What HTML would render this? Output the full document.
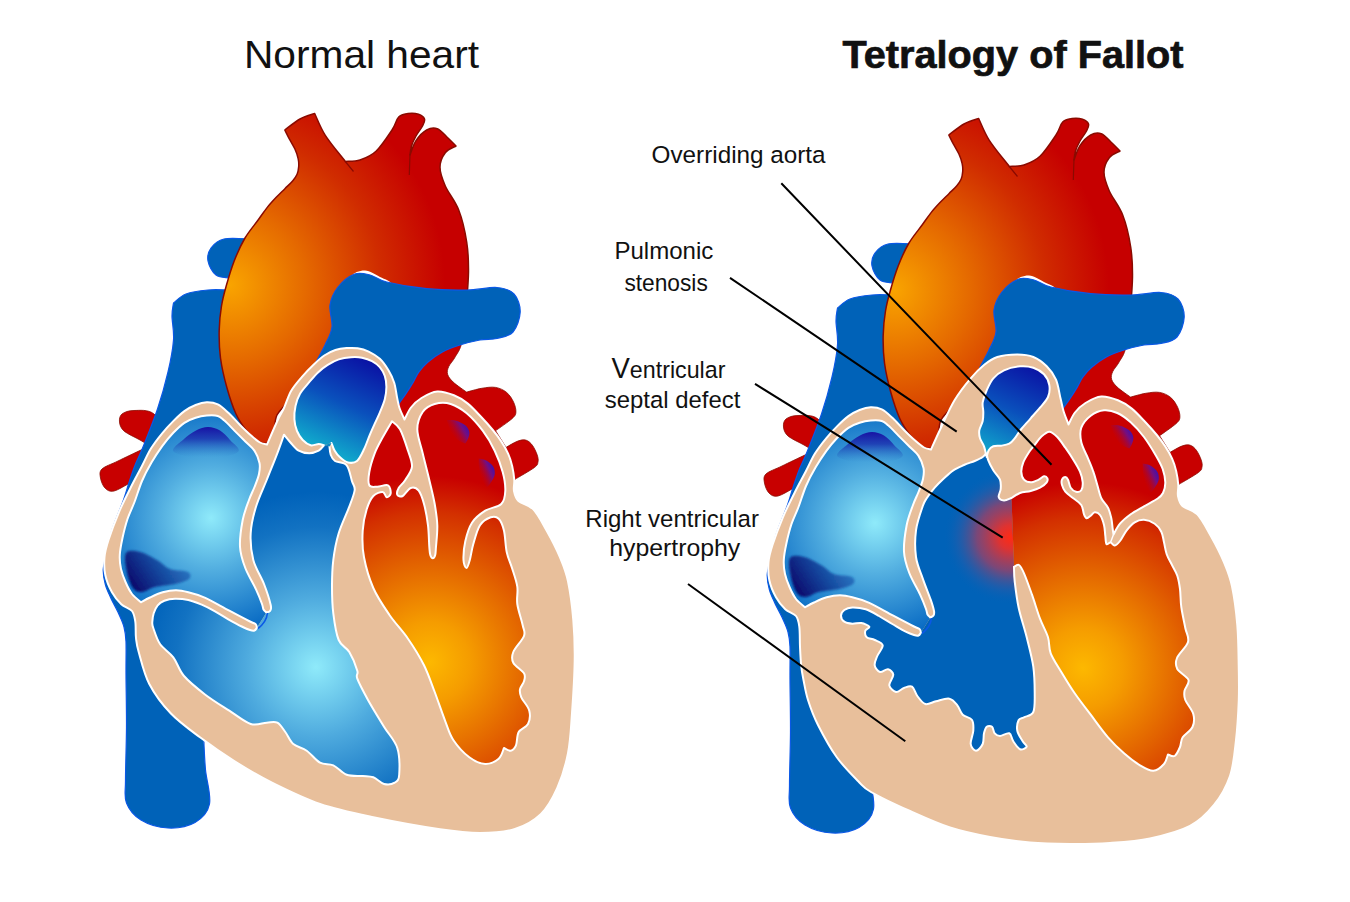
<!DOCTYPE html>
<html><head><meta charset="utf-8"><title>Tetralogy of Fallot</title>
<style>
html,body{margin:0;padding:0;background:#fff;}
svg{display:block;}
text{font-family:"Liberation Sans",sans-serif;fill:#111;}
</style></head><body>
<svg width="1350" height="902" viewBox="0 0 1350 902">
<defs>
<radialGradient id="gAo" gradientUnits="userSpaceOnUse" cx="230" cy="285" r="215">
 <stop offset="0" stop-color="#f9a400"/><stop offset="0.35" stop-color="#e56a00"/><stop offset="0.7" stop-color="#d02c00"/><stop offset="1" stop-color="#c60000"/>
</radialGradient>
<radialGradient id="gRA" gradientUnits="userSpaceOnUse" cx="211" cy="518" r="115">
 <stop offset="0" stop-color="#8feafa"/><stop offset="0.45" stop-color="#52aee0"/><stop offset="1" stop-color="#0a6cc4"/>
</radialGradient>
<radialGradient id="gRV" gradientUnits="userSpaceOnUse" cx="316" cy="667" r="175">
 <stop offset="0" stop-color="#8feafa"/><stop offset="0.4" stop-color="#4eaade"/><stop offset="0.8" stop-color="#1272c2"/><stop offset="1" stop-color="#0062ba"/>
</radialGradient>
<linearGradient id="gPV" gradientUnits="userSpaceOnUse" x1="372" y1="362" x2="330" y2="452">
 <stop offset="0" stop-color="#0a12a4"/><stop offset="0.5" stop-color="#0a50bc"/><stop offset="1" stop-color="#10a8cc"/>
</linearGradient>
<radialGradient id="gLV" gradientUnits="userSpaceOnUse" cx="430" cy="662" r="200">
 <stop offset="0" stop-color="#fdb800"/><stop offset="0.2" stop-color="#f59c00"/><stop offset="0.5" stop-color="#e26200"/><stop offset="0.75" stop-color="#d33000"/><stop offset="0.93" stop-color="#c80000"/>
</radialGradient>
<radialGradient id="gLV2" gradientUnits="userSpaceOnUse" cx="419" cy="663" r="200">
 <stop offset="0" stop-color="#fdb800"/><stop offset="0.2" stop-color="#f59c00"/><stop offset="0.5" stop-color="#e26200"/><stop offset="0.75" stop-color="#d33000"/><stop offset="0.93" stop-color="#c80000"/>
</radialGradient>
<linearGradient id="gRAtop" gradientUnits="userSpaceOnUse" x1="208" y1="427" x2="208" y2="457">
 <stop offset="0" stop-color="#1812a4"/><stop offset="0.4" stop-color="#1c34b0" stop-opacity="0.85"/><stop offset="1" stop-color="#2c7cc8" stop-opacity="0"/>
</linearGradient>
<filter id="fBlur" x="-20%" y="-20%" width="140%" height="140%"><feGaussianBlur stdDeviation="1.1"/></filter>
<linearGradient id="gRAsh" gradientUnits="userSpaceOnUse" x1="135" y1="590" x2="180" y2="560">
 <stop offset="0" stop-color="#060a6c"/><stop offset="1" stop-color="#1a60b4" stop-opacity="0.75"/>
</linearGradient>
<linearGradient id="gPurp1" gradientUnits="userSpaceOnUse" x1="469" y1="428" x2="452" y2="438">
 <stop offset="0" stop-color="#4210a8"/><stop offset="0.3" stop-color="#6a1090" stop-opacity="0.9"/><stop offset="1" stop-color="#c80000" stop-opacity="0"/>
</linearGradient>
<linearGradient id="gPurp2" gradientUnits="userSpaceOnUse" x1="495" y1="470" x2="479" y2="477">
 <stop offset="0" stop-color="#4210a8"/><stop offset="0.3" stop-color="#6a1090" stop-opacity="0.9"/><stop offset="1" stop-color="#c80000" stop-opacity="0"/>
</linearGradient>

<radialGradient id="gVSD" gradientUnits="userSpaceOnUse" cx="347" cy="532" r="68">
 <stop offset="0" stop-color="#ff2a14"/><stop offset="0.18" stop-color="#ea302a" stop-opacity="0.95"/><stop offset="0.5" stop-color="#b03c5c" stop-opacity="0.7"/><stop offset="0.8" stop-color="#4058a0" stop-opacity="0.3"/><stop offset="1" stop-color="#0062b8" stop-opacity="0"/>
</radialGradient>
</defs>
<rect width="1350" height="902" fill="#fff"/>
<g>
<path d="M154.0 414.0C148.0 409.1 139.3 410.5 134.0 410.5C128.7 410.5 124.4 412.1 122.0 414.0C119.6 415.9 119.2 419.2 119.5 422.0C119.8 424.8 120.6 428.0 124.0 431.0C127.4 434.0 135.7 437.5 140.0 440.0C144.3 442.5 148.3 445.0 150.0 446.0C148.5 446.7 146.3 447.5 141.0 450.0C135.7 452.5 124.5 457.8 118.0 461.0C111.5 464.2 104.9 466.2 102.0 469.0C99.1 471.8 100.0 474.8 100.5 478.0C101.0 481.2 102.8 485.8 105.0 488.0C107.2 490.2 109.5 492.0 114.0 491.0C118.5 490.0 126.0 484.8 132.0 482.0C138.0 479.2 147.0 475.3 150.0 474.0C153.3 468.3 166.7 445.7 170.0 440.0C167.3 435.7 160.0 418.9 154.0 414.0Z" fill="#c80000" stroke="#8a0a00" stroke-width="0.8" stroke-linejoin="round"/>
<path d="M440.0 300.0C445.0 300.0 465.0 300.0 470.0 300.0C468.7 307.0 464.4 332.6 462.0 342.0C459.6 351.4 457.6 352.5 455.4 356.6C453.2 360.7 450.0 363.7 448.7 366.6C447.4 369.6 446.9 371.7 447.6 374.3C448.4 376.9 450.1 379.1 453.2 382.1C456.3 385.1 464.3 390.4 466.5 392.1C469.0 391.5 476.8 389.1 481.7 388.3C486.6 387.5 491.4 386.7 495.6 387.4C499.8 388.1 503.7 390.0 506.7 392.5C509.7 395.0 512.1 398.9 513.6 402.2C515.1 405.4 516.1 409.3 515.9 412.0C515.7 414.7 515.6 415.4 512.2 418.5C508.8 421.6 498.4 428.7 495.6 430.7C497.3 433.5 504.3 444.6 506.0 447.4C508.0 446.3 514.4 442.3 517.8 441.1C521.1 439.9 523.7 439.5 526.1 440.2C528.5 440.9 530.5 442.8 532.4 445.3C534.2 447.8 536.3 452.2 537.2 455.0C538.1 457.8 538.5 459.8 538.0 461.9C537.5 464.0 538.2 464.6 534.4 467.5C530.6 470.4 518.2 477.3 515.0 479.3C512.5 482.8 502.5 496.6 500.0 500.0C486.7 495.0 433.3 475.0 420.0 470.0C414.7 463.0 393.3 435.0 388.0 428.0C389.7 420.0 396.3 388.0 398.0 380.0C405.0 366.7 433.0 313.3 440.0 300.0Z" fill="#c80000" stroke="#8a0a00" stroke-width="0.8" stroke-linejoin="round"/>
<path d="M173.5 303.0C175.6 301.5 180.2 296.2 186.0 294.0C191.8 291.8 201.0 290.7 208.0 290.0C215.0 289.3 224.7 290.0 228.0 290.0C233.7 308.3 256.3 381.7 262.0 400.0C263.7 408.3 270.3 441.7 272.0 450.0C260.0 475.0 212.0 575.0 200.0 600.0C200.7 624.2 203.3 720.8 204.0 745.0C204.2 749.2 204.6 760.2 205.5 770.0C206.4 779.8 211.2 795.2 209.5 804.0C207.8 812.8 201.9 818.5 195.0 822.5C188.1 826.5 177.0 828.4 168.0 828.0C159.0 827.6 147.9 824.2 141.0 820.0C134.1 815.8 129.1 809.7 126.5 803.0C123.9 796.3 125.5 792.7 125.5 780.0C125.5 767.3 126.4 744.5 126.5 727.0C126.6 709.5 126.1 689.2 126.0 675.0C125.9 660.8 126.3 649.7 126.0 641.7C125.7 633.7 125.2 631.7 124.0 627.0C122.8 622.3 120.9 618.6 118.7 613.7C116.5 608.8 112.9 602.6 110.7 597.7C108.5 592.8 106.5 589.0 105.3 584.3C104.0 579.6 103.1 574.6 103.2 569.7C103.3 564.8 104.5 561.6 106.0 555.0C107.5 548.4 109.1 539.2 112.0 530.0C114.9 520.8 120.6 508.2 123.5 500.0C126.4 491.8 127.5 487.0 129.5 481.0C131.5 475.0 133.2 469.7 135.5 464.0C137.8 458.3 139.3 456.2 143.0 447.0C146.7 437.8 153.3 421.5 157.5 409.0C161.7 396.5 165.3 383.5 168.0 372.0C170.7 360.5 172.8 349.3 173.5 340.0C174.2 330.7 172.0 322.2 172.0 316.0C172.0 309.8 173.2 305.2 173.5 303.0Z" fill="#0062b8" stroke="#0a58e6" stroke-width="1.2" stroke-linejoin="round"/>
<path d="M250.0 239.0C245.7 239.0 230.5 237.5 224.0 239.0C217.5 240.5 213.7 244.3 211.0 248.0C208.3 251.7 207.2 256.5 208.0 261.0C208.8 265.5 212.3 272.2 216.0 275.0C219.7 277.8 224.3 277.3 230.0 278.0C235.7 278.7 246.7 278.8 250.0 279.0C250.0 272.3 250.0 245.7 250.0 239.0Z" fill="#0062b8" stroke="#0a58e6" stroke-width="1.2" stroke-linejoin="round"/>
<path d="M284.8 130.0C287.3 128.2 295.0 121.8 300.0 119.0C305.0 116.2 312.2 114.4 314.7 113.5C316.5 117.1 320.2 127.3 325.3 135.3C330.4 143.3 342.0 157.1 345.3 161.5C347.8 161.2 354.9 161.7 360.0 160.0C365.1 158.3 370.7 156.3 376.0 151.3C381.3 146.3 388.2 135.7 392.0 130.0C395.8 124.3 396.0 119.8 398.7 117.0C401.4 114.2 404.7 114.0 408.0 113.5C411.3 113.0 415.8 113.3 418.5 114.2C421.2 115.1 423.8 117.0 424.5 119.0C425.2 121.0 423.9 123.2 422.5 126.0C421.1 128.8 417.8 132.7 416.0 136.0C414.2 139.3 412.5 142.8 411.5 146.0C410.5 149.2 410.2 153.5 410.0 155.0C411.0 152.6 413.2 144.9 416.0 140.7C418.8 136.5 423.1 132.0 426.7 130.0C430.2 128.0 433.8 127.4 437.3 128.7C440.9 130.0 444.9 135.1 448.0 138.0C451.1 140.9 454.7 144.7 456.0 146.0C454.2 147.1 448.0 149.1 445.3 152.7C442.6 156.2 440.0 161.8 440.0 167.3C440.0 172.9 442.2 178.9 445.3 186.0C448.4 193.1 455.1 200.7 458.7 210.0C462.3 219.3 465.1 231.7 466.7 242.0C468.3 252.3 468.6 260.7 468.5 272.0C468.4 283.3 466.4 303.7 466.0 310.0C463.3 313.3 452.7 326.7 450.0 330.0C441.7 338.3 408.3 371.7 400.0 380.0C388.3 386.7 341.7 413.3 330.0 420.0C323.3 416.7 296.7 403.3 290.0 400.0C287.8 402.5 279.6 410.0 277.0 415.0C274.4 420.0 275.5 426.0 274.5 430.0C273.5 434.0 272.6 436.8 271.0 439.0C269.4 441.2 267.5 443.3 265.0 443.5C262.5 443.7 259.2 442.2 256.0 440.0C252.8 437.8 249.3 434.3 246.0 430.0C242.7 425.7 239.2 421.0 236.0 414.0C232.8 407.0 229.6 397.3 227.0 388.0C224.4 378.7 221.8 367.7 220.5 358.0C219.2 348.3 219.0 338.7 219.2 330.0C219.4 321.3 220.3 313.3 221.5 306.0C222.7 298.7 224.1 293.4 226.2 286.0C228.3 278.6 230.9 269.5 234.0 261.5C237.1 253.5 240.9 244.9 245.0 238.0C249.1 231.1 254.6 224.9 258.3 219.8C262.0 214.7 264.2 211.3 267.1 207.6C270.1 203.9 273.0 200.8 276.0 197.6C279.0 194.4 282.1 191.5 284.9 188.7C287.7 185.9 290.6 183.4 292.6 181.0C294.6 178.6 296.1 176.7 297.1 174.3C298.1 171.9 298.5 169.2 298.7 166.6C298.9 164.0 298.8 161.8 298.2 158.8C297.6 155.8 296.3 152.1 294.8 148.8C293.3 145.5 291.0 141.9 289.3 138.8C287.6 135.7 285.6 131.5 284.8 130.0Z" fill="url(#gAo)" stroke="#8a0a00" stroke-width="1.5" stroke-linejoin="round"/>
<path d="M345.3 161.5L353.5 171.5M410 154L409.3 175" stroke="#8a0a00" stroke-width="1.2" fill="none"/>
<path d="M352.0 276.0C352.8 272.8 360.3 270.3 365.0 270.5C369.7 270.7 375.8 274.8 380.0 277.0C384.2 279.2 393.3 281.8 390.0 284.0C386.7 286.2 366.3 291.3 360.0 290.0C353.7 288.7 351.2 279.2 352.0 276.0Z" fill="#ffffff"/>
<path d="M354.7 274.0C360.0 272.0 364.7 273.7 370.0 275.0C375.3 276.3 377.2 279.7 386.7 282.0C396.1 284.3 413.4 287.4 426.7 288.7C440.0 290.0 455.0 290.2 466.7 290.0C478.4 289.8 489.1 286.8 497.0 287.5C504.9 288.2 510.1 289.9 514.0 294.0C517.9 298.1 520.4 305.7 520.2 312.0C520.0 318.3 516.9 327.6 513.0 332.0C509.1 336.4 502.5 337.2 497.0 338.5C491.5 339.8 486.2 338.9 480.0 340.0C473.8 341.1 466.3 343.0 460.0 345.0C453.7 347.0 447.4 349.3 442.0 352.2C436.6 355.1 431.6 358.9 427.7 362.2C423.8 365.5 421.2 368.8 418.8 372.1C416.4 375.4 415.5 378.4 413.3 382.1C411.1 385.8 408.1 390.5 405.5 394.3C402.9 398.1 399.2 403.2 398.0 405.0C396.7 407.5 391.3 417.5 390.0 420.0C376.7 420.0 323.3 420.0 310.0 420.0C311.0 410.3 315.0 371.7 316.0 362.0C317.5 359.2 322.3 350.8 325.0 345.0C327.7 339.2 331.2 333.7 332.0 327.0C332.8 320.3 329.0 311.7 330.0 305.0C331.0 298.3 333.9 292.2 338.0 287.0C342.1 281.8 349.4 276.0 354.7 274.0Z" fill="#0062b8" stroke="#0a58e6" stroke-width="1.2" stroke-linejoin="round"/>
</g>
<path d="M130.5 488.0C134.3 480.3 138.6 472.6 142.0 466.0C145.4 459.4 147.7 453.8 151.1 448.3C154.5 442.9 158.5 437.8 162.2 433.3C165.9 428.8 169.6 424.8 173.3 421.1C177.0 417.4 180.7 413.8 184.4 411.1C188.1 408.4 191.9 406.5 195.6 405.0C199.3 403.5 203.0 402.3 206.7 402.2C210.4 402.1 214.1 402.5 217.8 404.4C221.5 406.2 225.2 409.9 228.9 413.3C232.6 416.7 236.3 421.3 240.0 425.0C243.7 428.7 247.8 432.7 251.1 435.6C254.4 438.5 257.4 441.0 260.0 442.5C262.6 444.0 265.8 444.2 267.0 444.5C268.7 440.6 274.5 427.1 277.3 421.0C280.1 414.9 281.7 413.0 284.0 408.0C286.3 403.0 288.1 396.2 291.1 391.0C294.1 385.8 298.5 381.0 302.2 376.6C305.9 372.2 309.6 368.4 313.3 364.9C317.0 361.4 320.6 358.0 324.3 355.5C328.0 353.0 331.7 351.2 335.4 350.0C339.1 348.8 342.8 348.4 346.5 348.1C350.2 347.8 353.9 347.7 357.6 348.3C361.3 348.9 365.0 349.9 368.7 351.6C372.4 353.4 376.5 355.7 379.8 358.8C383.1 361.9 386.2 366.5 388.6 370.5C391.0 374.5 392.8 378.3 394.2 382.7C395.6 387.1 396.1 392.9 397.0 397.1C397.9 401.3 398.2 404.3 399.5 408.0C400.8 411.7 403.7 417.6 404.5 419.5C405.6 417.5 408.2 411.1 411.0 407.5C413.8 403.9 417.1 400.7 421.5 398.0C425.9 395.3 431.9 391.9 437.3 391.5C442.7 391.1 448.8 393.3 453.9 395.3C459.0 397.3 463.2 399.9 467.8 403.6C472.4 407.3 477.5 413.1 481.7 417.5C485.9 421.9 489.6 426.1 492.8 430.0C496.0 433.9 498.6 437.2 501.1 441.1C503.7 445.0 506.2 449.4 508.1 453.6C510.0 457.8 511.2 461.7 512.2 466.1C513.2 470.5 514.0 475.9 514.3 480.0C514.6 484.1 513.3 487.5 514.0 491.0C514.7 494.5 515.3 497.9 518.5 501.0C521.7 504.1 528.6 504.4 533.3 509.3C538.0 514.2 542.2 522.7 546.7 530.7C551.2 538.7 556.5 548.9 560.0 557.3C563.5 565.7 565.8 570.8 568.0 581.3C570.2 591.8 572.2 606.9 573.3 620.0C574.4 633.1 574.9 644.5 574.7 660.0C574.5 675.5 573.1 697.8 572.0 713.3C570.9 728.8 570.5 740.8 568.0 753.3C565.5 765.8 561.8 777.9 557.3 788.0C552.8 798.1 548.0 807.2 541.0 814.0C534.0 820.8 525.2 825.8 515.0 829.0C504.8 832.2 492.5 833.0 480.0 833.0C467.5 833.0 457.8 831.9 440.0 829.3C422.2 826.7 393.3 821.5 373.3 817.3C353.3 813.1 336.9 809.8 320.0 804.0C303.1 798.2 286.2 789.8 272.0 782.7C257.8 775.6 246.7 768.9 234.7 761.3C222.7 753.7 210.7 745.3 200.0 737.3C189.3 729.3 179.1 722.2 170.7 713.3C162.2 704.4 154.6 694.2 149.3 684.0C144.0 673.8 140.9 659.7 138.7 652.0C136.5 644.3 136.6 643.0 136.0 638.0C135.4 633.0 136.0 626.2 135.3 621.7C134.6 617.2 134.3 613.9 132.0 611.0C129.7 608.1 124.6 607.4 121.3 604.3C118.0 601.2 114.7 597.2 112.0 592.3C109.3 587.4 106.5 580.9 105.3 575.0C104.0 569.1 104.0 562.8 104.5 557.0C105.0 551.2 106.1 547.5 108.5 540.0C110.9 532.5 115.3 520.7 119.0 512.0C122.7 503.3 126.7 495.7 130.5 488.0Z" fill="#e8bf9b" stroke="#ffffff" stroke-width="2" stroke-linejoin="round"/>
<path d="M206.7 415.6C203.0 415.9 199.3 416.6 195.6 417.8C191.9 419.0 188.1 420.3 184.4 422.8C180.7 425.3 177.0 428.9 173.3 432.8C169.6 436.7 165.8 441.2 162.2 446.1C158.6 451.1 154.9 456.7 151.5 462.5C148.1 468.3 144.8 474.4 142.0 481.0C139.2 487.6 136.9 495.7 134.5 502.0C132.1 508.3 129.5 513.0 127.5 519.0C125.5 525.0 123.8 532.0 122.5 538.0C121.2 544.0 120.0 549.8 119.8 555.0C119.5 560.2 120.0 564.5 121.0 569.0C122.0 573.5 123.7 577.8 125.5 582.0C127.3 586.2 129.4 590.6 132.0 594.0C134.6 597.4 139.5 600.9 141.0 602.3C142.5 601.5 146.4 599.2 150.0 597.5C153.6 595.8 158.4 593.5 162.7 592.3C167.0 591.1 171.7 590.3 176.0 590.3C180.3 590.3 183.4 591.0 188.3 592.3C193.2 593.5 198.5 594.7 205.3 597.8C212.1 600.9 221.9 606.8 229.3 610.7C236.8 614.7 245.6 619.3 250.0 621.5C254.4 623.7 254.3 623.0 255.5 624.0C256.7 625.0 256.8 626.9 257.0 627.5L266.5 612.5C266.0 612.0 264.2 610.9 263.5 609.5C262.8 608.1 263.2 607.4 262.0 604.0C260.8 600.6 258.8 595.3 256.0 589.3C253.2 583.3 248.0 575.1 245.3 568.0C242.6 560.9 240.4 554.7 240.0 546.7C239.6 538.7 241.2 527.8 242.7 520.0C244.2 512.2 247.0 505.5 249.0 500.0C251.0 494.5 252.8 491.3 254.5 487.0C256.2 482.7 258.2 478.0 259.0 474.0C259.8 470.0 260.3 466.9 259.5 463.0C258.7 459.1 256.7 454.2 254.4 450.6C252.1 447.1 248.9 445.0 245.6 441.7C242.3 438.4 237.9 434.1 234.4 430.6C230.9 427.1 227.2 423.0 224.4 420.6C221.6 418.2 220.8 416.8 217.8 416.0C214.9 415.2 210.4 415.3 206.7 415.6Z" fill="url(#gRA)"/><path d="M206.7 415.6C203.0 415.9 199.3 416.6 195.6 417.8C191.9 419.0 188.1 420.3 184.4 422.8C180.7 425.3 177.0 428.9 173.3 432.8C169.6 436.7 165.8 441.2 162.2 446.1C158.6 451.1 154.9 456.7 151.5 462.5C148.1 468.3 144.8 474.4 142.0 481.0C139.2 487.6 136.9 495.7 134.5 502.0C132.1 508.3 129.5 513.0 127.5 519.0C125.5 525.0 123.8 532.0 122.5 538.0C121.2 544.0 120.0 549.8 119.8 555.0C119.5 560.2 120.0 564.5 121.0 569.0C122.0 573.5 123.7 577.8 125.5 582.0C127.3 586.2 129.4 590.6 132.0 594.0C134.6 597.4 139.5 600.9 141.0 602.3C142.5 601.5 146.4 599.2 150.0 597.5C153.6 595.8 158.4 593.5 162.7 592.3C167.0 591.1 171.7 590.3 176.0 590.3C180.3 590.3 183.4 591.0 188.3 592.3C193.2 593.5 198.5 594.7 205.3 597.8C212.1 600.9 221.9 606.8 229.3 610.7C236.8 614.7 245.6 619.3 250.0 621.5C254.4 623.7 254.3 623.0 255.5 624.0C256.7 625.0 256.8 626.9 257.0 627.5M266.5 612.5C266.0 612.0 264.2 610.9 263.5 609.5C262.8 608.1 263.2 607.4 262.0 604.0C260.8 600.6 258.8 595.3 256.0 589.3C253.2 583.3 248.0 575.1 245.3 568.0C242.6 560.9 240.4 554.7 240.0 546.7C239.6 538.7 241.2 527.8 242.7 520.0C244.2 512.2 247.0 505.5 249.0 500.0C251.0 494.5 252.8 491.3 254.5 487.0C256.2 482.7 258.2 478.0 259.0 474.0C259.8 470.0 260.3 466.9 259.5 463.0C258.7 459.1 256.7 454.2 254.4 450.6C252.1 447.1 248.9 445.0 245.6 441.7C242.3 438.4 237.9 434.1 234.4 430.6C230.9 427.1 227.2 423.0 224.4 420.6C221.6 418.2 220.8 416.8 217.8 416.0C214.9 415.2 210.4 415.3 206.7 415.6" fill="none" stroke="#ffffff" stroke-width="2" stroke-linejoin="round" stroke-linecap="round"/>
<path d="M174.0 452.0C170.0 448.7 180.3 442.6 184.0 439.0C187.7 435.4 192.0 432.5 196.0 430.5C200.0 428.5 204.0 427.0 208.0 427.0C212.0 427.0 216.3 428.3 220.0 430.5C223.7 432.7 227.0 436.4 230.0 440.0C233.0 443.6 241.7 448.8 238.0 452.0C234.3 455.2 218.7 459.0 208.0 459.0C197.3 459.0 178.0 455.3 174.0 452.0Z" fill="url(#gRAtop)"/>
<path d="M126.0 553.0C128.2 549.7 134.8 550.8 140.0 552.0C145.2 553.2 152.0 557.2 157.0 560.0C162.0 562.8 164.8 567.0 170.0 569.0C175.2 571.0 184.8 570.3 188.0 572.0C191.2 573.7 191.2 577.0 189.0 579.0C186.8 581.0 180.7 582.7 175.0 584.0C169.3 585.3 160.5 585.7 155.0 587.0C149.5 588.3 145.7 591.8 142.0 592.0C138.3 592.2 135.5 591.3 133.0 588.0C130.5 584.7 128.2 577.8 127.0 572.0C125.8 566.2 123.8 556.3 126.0 553.0Z" fill="url(#gRAsh)" filter="url(#fBlur)"/>
<path d="M284.0 434.7C285.1 436.0 288.2 440.0 290.7 442.7C293.1 445.4 295.6 448.9 298.7 450.7C301.8 452.5 306.0 453.3 309.3 453.3C312.6 453.3 316.2 452.0 318.7 450.7C321.1 449.4 323.1 446.2 324.0 445.3L329.5 446.5C329.7 447.9 329.8 452.3 330.7 454.7C331.6 457.1 332.3 459.2 335.0 461.0C337.7 462.8 343.9 461.9 346.7 465.3C349.5 468.7 350.7 477.2 352.0 481.3C353.3 485.4 355.1 485.8 354.7 490.0C354.2 494.2 352.0 499.5 349.3 506.7C346.6 513.9 341.4 524.4 338.7 533.3C336.0 542.2 334.4 551.1 333.3 560.0C332.2 568.9 332.0 577.8 332.0 586.7C332.0 595.6 332.2 604.4 333.3 613.3C334.4 622.2 336.0 633.5 338.7 640.0C341.4 646.5 346.2 646.9 349.3 652.0C352.4 657.1 356.0 666.2 357.3 670.7C358.6 675.2 355.5 673.8 357.3 678.7C359.1 683.6 363.6 692.0 368.0 700.0C372.4 708.0 379.1 718.7 384.0 726.7C388.9 734.7 394.8 740.0 397.3 748.0C399.8 756.0 399.6 768.9 399.2 774.7C398.8 780.5 397.2 781.2 394.7 782.7C392.2 784.2 387.6 784.9 384.0 784.0C380.4 783.1 376.9 778.6 373.3 777.3C369.8 776.0 367.1 776.4 362.7 776.0C358.3 775.6 351.6 776.5 346.7 774.7C341.8 772.9 337.8 767.3 333.3 765.3C328.9 763.3 324.4 765.1 320.0 762.7C315.6 760.3 311.1 753.8 306.7 750.7C302.2 747.6 296.9 747.1 293.3 744.0C289.7 740.9 288.0 735.5 285.3 732.0C282.6 728.5 280.4 724.2 277.3 722.7C274.2 721.2 271.1 722.5 266.7 722.7C262.3 722.9 256.9 726.0 250.7 724.0C244.5 722.0 236.9 715.6 229.3 710.7C221.7 705.8 212.9 700.5 205.3 694.7C197.8 688.9 189.3 682.2 184.0 676.0C178.7 669.8 177.3 662.6 173.3 657.3C169.3 652.0 163.3 648.9 160.0 644.0C156.7 639.1 154.6 631.7 153.3 628.0C152.0 624.3 152.2 624.5 152.3 622.0C152.4 619.5 152.8 616.1 153.7 613.3C154.6 610.5 155.9 607.4 157.7 605.3C159.5 603.2 161.4 601.8 164.3 600.7C167.2 599.6 171.0 598.8 175.0 598.7C179.0 598.6 183.9 599.0 188.3 600.0C192.8 601.0 197.2 602.8 201.7 604.7C206.1 606.6 210.6 608.9 215.0 611.3C219.4 613.7 223.9 616.8 228.3 619.3C232.8 621.8 238.1 624.7 241.7 626.5C245.3 628.3 247.9 629.3 250.0 630.0C252.1 630.7 253.3 630.9 254.5 630.5C255.7 630.1 256.6 628.0 257.0 627.5L266.5 612.5C267.1 612.2 269.3 612.2 270.0 611.0C270.7 609.8 271.7 609.5 270.7 605.0C269.7 600.5 266.9 591.5 264.0 584.0C261.1 576.5 255.5 568.5 253.3 560.0C251.1 551.5 250.2 542.2 250.7 533.3C251.1 524.4 253.3 515.6 256.0 506.7C258.7 497.8 263.1 488.9 266.7 480.0C270.2 471.1 274.4 460.9 277.3 453.3C280.2 445.8 282.9 437.8 284.0 434.7Z" fill="url(#gRV)"/><path d="M284.0 434.7C285.1 436.0 288.2 440.0 290.7 442.7C293.1 445.4 295.6 448.9 298.7 450.7C301.8 452.5 306.0 453.3 309.3 453.3C312.6 453.3 316.2 452.0 318.7 450.7C321.1 449.4 323.1 446.2 324.0 445.3M329.5 446.5C329.7 447.9 329.8 452.3 330.7 454.7C331.6 457.1 332.3 459.2 335.0 461.0C337.7 462.8 343.9 461.9 346.7 465.3C349.5 468.7 350.7 477.2 352.0 481.3C353.3 485.4 355.1 485.8 354.7 490.0C354.2 494.2 352.0 499.5 349.3 506.7C346.6 513.9 341.4 524.4 338.7 533.3C336.0 542.2 334.4 551.1 333.3 560.0C332.2 568.9 332.0 577.8 332.0 586.7C332.0 595.6 332.2 604.4 333.3 613.3C334.4 622.2 336.0 633.5 338.7 640.0C341.4 646.5 346.2 646.9 349.3 652.0C352.4 657.1 356.0 666.2 357.3 670.7C358.6 675.2 355.5 673.8 357.3 678.7C359.1 683.6 363.6 692.0 368.0 700.0C372.4 708.0 379.1 718.7 384.0 726.7C388.9 734.7 394.8 740.0 397.3 748.0C399.8 756.0 399.6 768.9 399.2 774.7C398.8 780.5 397.2 781.2 394.7 782.7C392.2 784.2 387.6 784.9 384.0 784.0C380.4 783.1 376.9 778.6 373.3 777.3C369.8 776.0 367.1 776.4 362.7 776.0C358.3 775.6 351.6 776.5 346.7 774.7C341.8 772.9 337.8 767.3 333.3 765.3C328.9 763.3 324.4 765.1 320.0 762.7C315.6 760.3 311.1 753.8 306.7 750.7C302.2 747.6 296.9 747.1 293.3 744.0C289.7 740.9 288.0 735.5 285.3 732.0C282.6 728.5 280.4 724.2 277.3 722.7C274.2 721.2 271.1 722.5 266.7 722.7C262.3 722.9 256.9 726.0 250.7 724.0C244.5 722.0 236.9 715.6 229.3 710.7C221.7 705.8 212.9 700.5 205.3 694.7C197.8 688.9 189.3 682.2 184.0 676.0C178.7 669.8 177.3 662.6 173.3 657.3C169.3 652.0 163.3 648.9 160.0 644.0C156.7 639.1 154.6 631.7 153.3 628.0C152.0 624.3 152.2 624.5 152.3 622.0C152.4 619.5 152.8 616.1 153.7 613.3C154.6 610.5 155.9 607.4 157.7 605.3C159.5 603.2 161.4 601.8 164.3 600.7C167.2 599.6 171.0 598.8 175.0 598.7C179.0 598.6 183.9 599.0 188.3 600.0C192.8 601.0 197.2 602.8 201.7 604.7C206.1 606.6 210.6 608.9 215.0 611.3C219.4 613.7 223.9 616.8 228.3 619.3C232.8 621.8 238.1 624.7 241.7 626.5C245.3 628.3 247.9 629.3 250.0 630.0C252.1 630.7 253.3 630.9 254.5 630.5C255.7 630.1 256.6 628.0 257.0 627.5M266.5 612.5C267.1 612.2 269.3 612.2 270.0 611.0C270.7 609.8 271.7 609.5 270.7 605.0C269.7 600.5 266.9 591.5 264.0 584.0C261.1 576.5 255.5 568.5 253.3 560.0C251.1 551.5 250.2 542.2 250.7 533.3C251.1 524.4 253.3 515.6 256.0 506.7C258.7 497.8 263.1 488.9 266.7 480.0C270.2 471.1 274.4 460.9 277.3 453.3C280.2 445.8 282.9 437.8 284.0 434.7" fill="none" stroke="#ffffff" stroke-width="2" stroke-linejoin="round" stroke-linecap="round"/>
<path d="M351.0 357.2C354.9 356.9 358.5 357.0 362.0 357.7C365.5 358.4 369.0 359.5 372.0 361.1C375.0 362.7 377.7 364.7 379.8 367.2C381.9 369.7 383.7 372.7 384.8 376.0C385.9 379.3 386.4 383.2 386.4 387.1C386.4 391.0 385.9 395.1 384.8 399.3C383.7 403.6 381.6 408.4 379.8 412.6C378.0 416.9 375.9 421.1 374.2 424.8C372.5 428.5 371.5 430.7 369.8 434.8C368.1 438.9 366.1 444.9 364.0 449.3C361.9 453.7 359.7 458.8 357.0 461.0C354.3 463.2 350.8 463.1 348.0 462.5C345.2 461.9 342.2 459.3 340.0 457.3C337.8 455.3 336.1 453.1 334.7 450.7C333.3 448.3 332.0 444.3 331.5 443.0L324.0 445.3C323.1 445.1 320.9 444.0 318.7 444.0C316.5 444.0 313.4 446.0 310.7 445.3C308.0 444.6 305.0 442.4 302.7 440.0C300.4 437.6 298.4 434.4 297.0 431.0C295.6 427.6 294.6 423.5 294.4 419.3C294.1 415.1 294.6 410.2 295.5 406.0C296.4 401.8 297.8 397.7 300.0 393.8C302.2 389.9 305.9 386.2 308.8 382.7C311.8 379.2 314.6 375.7 317.7 372.7C320.8 369.7 324.2 367.1 327.7 364.9C331.2 362.7 334.9 360.7 338.8 359.4C342.7 358.1 347.1 357.5 351.0 357.2Z" fill="url(#gPV)"/><path d="M351.0 357.2C354.9 356.9 358.5 357.0 362.0 357.7C365.5 358.4 369.0 359.5 372.0 361.1C375.0 362.7 377.7 364.7 379.8 367.2C381.9 369.7 383.7 372.7 384.8 376.0C385.9 379.3 386.4 383.2 386.4 387.1C386.4 391.0 385.9 395.1 384.8 399.3C383.7 403.6 381.6 408.4 379.8 412.6C378.0 416.9 375.9 421.1 374.2 424.8C372.5 428.5 371.5 430.7 369.8 434.8C368.1 438.9 366.1 444.9 364.0 449.3C361.9 453.7 359.7 458.8 357.0 461.0C354.3 463.2 350.8 463.1 348.0 462.5C345.2 461.9 342.2 459.3 340.0 457.3C337.8 455.3 336.1 453.1 334.7 450.7C333.3 448.3 332.0 444.3 331.5 443.0M324.0 445.3C323.1 445.1 320.9 444.0 318.7 444.0C316.5 444.0 313.4 446.0 310.7 445.3C308.0 444.6 305.0 442.4 302.7 440.0C300.4 437.6 298.4 434.4 297.0 431.0C295.6 427.6 294.6 423.5 294.4 419.3C294.1 415.1 294.6 410.2 295.5 406.0C296.4 401.8 297.8 397.7 300.0 393.8C302.2 389.9 305.9 386.2 308.8 382.7C311.8 379.2 314.6 375.7 317.7 372.7C320.8 369.7 324.2 367.1 327.7 364.9C331.2 362.7 334.9 360.7 338.8 359.4C342.7 358.1 347.1 357.5 351.0 357.2" fill="none" stroke="#ffffff" stroke-width="2" stroke-linejoin="round" stroke-linecap="round"/>
<path d="M324 445.3L331.5 443L329.5 446.5Z" fill="#0c86c4"/>
<path d="M267.5 613Q266.5 622 258 628.5" stroke="#0a58e6" stroke-width="1.6" fill="none"/>
<path d="M392.0 421.3C393.3 422.6 397.3 424.4 400.0 429.3C402.7 434.2 406.0 444.5 408.0 450.7C410.0 456.9 412.4 461.8 412.0 466.7C411.6 471.6 407.5 476.4 405.3 480.0C403.1 483.6 400.0 485.6 398.7 488.0C397.4 490.4 396.6 493.4 397.3 494.7C398.0 496.0 400.5 497.1 402.7 496.0C404.9 494.9 408.0 488.9 410.7 488.0C413.4 487.1 416.5 488.0 418.7 490.7C420.9 493.4 422.4 498.2 424.0 504.0C425.6 509.8 427.1 518.2 428.0 525.3C428.9 532.4 428.9 541.8 429.3 546.7C429.7 551.7 429.7 553.1 430.3 555.0C430.9 556.9 432.0 558.3 432.8 558.3C433.6 558.3 434.7 556.9 435.2 555.0C435.7 553.1 435.6 551.7 436.0 546.7C436.4 541.8 437.5 532.4 437.3 525.3C437.1 518.2 436.0 511.6 434.7 504.0C433.4 496.4 431.3 488.4 429.3 480.0C427.3 471.6 424.7 461.8 422.7 453.3C420.7 444.9 417.3 436.2 417.3 429.3C417.3 422.4 419.8 416.2 422.7 412.0C425.6 407.8 430.0 405.3 434.7 404.0C439.4 402.7 445.4 402.4 450.7 404.0C456.0 405.6 461.4 408.9 466.7 413.3C472.0 417.8 478.0 424.5 482.7 430.7C487.4 436.9 491.4 443.8 494.7 450.7C498.0 457.6 500.9 465.3 502.7 472.0C504.5 478.7 505.5 485.4 505.3 490.7C505.1 496.0 504.6 500.7 501.3 504.0C498.0 507.3 490.2 507.6 485.3 510.7C480.4 513.8 475.3 517.6 472.0 522.7C468.7 527.8 466.7 535.1 465.3 541.3C463.9 547.5 463.3 555.5 463.5 560.0C463.7 564.5 465.4 568.0 466.5 568.0C467.6 568.0 468.7 564.0 469.8 560.0C470.9 556.0 471.6 549.8 473.3 544.0C475.0 538.2 477.1 529.8 480.0 525.3C482.9 520.8 487.6 518.4 490.7 517.3C493.8 516.2 496.5 516.5 498.7 518.7C500.9 520.9 502.7 525.2 504.0 530.7C505.3 536.2 505.4 545.8 506.7 552.0C508.0 558.2 510.2 562.2 512.0 568.0C513.8 573.8 516.4 580.7 517.3 586.7C518.2 592.7 516.4 597.6 517.3 604.0C518.2 610.4 521.6 620.0 522.7 625.3C523.8 630.6 525.6 631.5 524.0 636.0C522.4 640.5 515.1 647.5 513.3 652.0C511.5 656.5 511.5 659.2 513.3 662.7C515.1 666.2 522.2 670.2 524.0 673.3C525.8 676.4 524.7 678.6 524.0 681.3C523.3 684.0 520.5 686.6 520.0 689.3C519.5 692.0 519.8 693.7 521.3 697.3C522.8 700.9 528.2 706.2 529.3 710.7C530.4 715.2 529.8 720.5 528.0 724.0C526.2 727.5 520.7 728.5 518.7 732.0C516.7 735.5 517.3 742.2 516.0 745.3C514.7 748.4 512.7 750.2 510.7 750.7C508.7 751.2 505.1 748.5 504.0 748.0C503.1 749.8 501.8 756.0 498.7 758.7C495.6 761.4 490.2 764.2 485.3 764.0C480.4 763.8 474.6 761.3 469.3 757.3C464.0 753.3 457.3 746.0 453.3 740.0C449.3 734.0 448.4 729.3 445.3 721.3C442.2 713.3 438.2 701.3 434.7 692.0C431.1 682.7 428.4 674.2 424.0 665.3C419.6 656.4 413.8 647.1 408.0 638.7C402.2 630.3 395.1 623.2 389.3 614.7C383.5 606.2 377.5 597.6 373.3 588.0C369.1 578.4 365.8 566.8 364.0 557.3C362.2 547.8 362.2 538.7 362.7 530.7C363.1 522.7 364.9 515.1 366.7 509.3C368.5 503.5 370.6 498.9 373.3 496.0C376.0 493.1 380.5 491.8 382.7 492.0C384.9 492.2 385.4 497.1 386.7 497.3C388.0 497.5 390.5 495.3 390.7 493.3C390.9 491.3 390.2 486.4 388.0 485.3C385.8 484.2 380.4 486.7 377.3 486.7C374.2 486.7 370.6 487.8 369.3 485.3C368.0 482.9 368.4 477.3 369.3 472.0C370.2 466.7 372.5 459.1 374.7 453.3C376.9 447.5 379.8 442.6 382.7 437.3C385.6 432.0 390.4 424.0 392.0 421.3Z" fill="url(#gLV)" stroke="#ffffff" stroke-width="2" stroke-linejoin="round"/>
<path d="M446.7 420.0C448.2 420.1 452.9 419.8 456.0 420.7C459.1 421.6 463.1 423.4 465.3 425.3C467.5 427.2 468.9 429.8 469.3 432.0C469.8 434.2 468.7 436.8 468.0 438.7C467.3 440.6 465.8 442.7 465.3 443.5C464.1 442.9 460.4 441.9 458.0 440.0C455.6 438.1 452.9 435.3 451.0 432.0C449.1 428.7 447.4 422.0 446.7 420.0Z" fill="url(#gPurp1)"/>
<path d="M478.7 458.5C480.0 458.9 484.3 459.3 486.7 460.7C489.1 462.1 492.0 464.4 493.3 466.7C494.6 469.0 495.1 472.0 494.7 474.7C494.3 477.4 492.0 480.6 490.7 482.7C489.4 484.8 487.4 486.7 486.7 487.5C485.9 486.2 483.3 483.2 482.0 480.0C480.7 476.8 479.6 471.6 479.0 468.0C478.4 464.4 478.8 460.1 478.7 458.5Z" fill="url(#gPurp2)"/>
<g transform="translate(664 5)">
<path d="M154.0 414.0C148.0 409.1 139.3 410.5 134.0 410.5C128.7 410.5 124.4 412.1 122.0 414.0C119.6 415.9 119.2 419.2 119.5 422.0C119.8 424.8 120.6 428.0 124.0 431.0C127.4 434.0 135.7 437.5 140.0 440.0C144.3 442.5 148.3 445.0 150.0 446.0C148.5 446.7 146.3 447.5 141.0 450.0C135.7 452.5 124.5 457.8 118.0 461.0C111.5 464.2 104.9 466.2 102.0 469.0C99.1 471.8 100.0 474.8 100.5 478.0C101.0 481.2 102.8 485.8 105.0 488.0C107.2 490.2 109.5 492.0 114.0 491.0C118.5 490.0 126.0 484.8 132.0 482.0C138.0 479.2 147.0 475.3 150.0 474.0C153.3 468.3 166.7 445.7 170.0 440.0C167.3 435.7 160.0 418.9 154.0 414.0Z" fill="#c80000" stroke="#8a0a00" stroke-width="0.8" stroke-linejoin="round"/>
<path d="M440.0 300.0C445.0 300.0 465.0 300.0 470.0 300.0C468.7 307.0 464.4 332.6 462.0 342.0C459.6 351.4 457.6 352.5 455.4 356.6C453.2 360.7 450.0 363.7 448.7 366.6C447.4 369.6 446.9 371.7 447.6 374.3C448.4 376.9 450.1 379.1 453.2 382.1C456.3 385.1 464.3 390.4 466.5 392.1C469.0 391.5 476.8 389.1 481.7 388.3C486.6 387.5 491.4 386.7 495.6 387.4C499.8 388.1 503.7 390.0 506.7 392.5C509.7 395.0 512.1 398.9 513.6 402.2C515.1 405.4 516.1 409.3 515.9 412.0C515.7 414.7 515.6 415.4 512.2 418.5C508.8 421.6 498.4 428.7 495.6 430.7C497.3 433.5 504.3 444.6 506.0 447.4C508.0 446.3 514.4 442.3 517.8 441.1C521.1 439.9 523.7 439.5 526.1 440.2C528.5 440.9 530.5 442.8 532.4 445.3C534.2 447.8 536.3 452.2 537.2 455.0C538.1 457.8 538.5 459.8 538.0 461.9C537.5 464.0 538.2 464.6 534.4 467.5C530.6 470.4 518.2 477.3 515.0 479.3C512.5 482.8 502.5 496.6 500.0 500.0C486.7 495.0 433.3 475.0 420.0 470.0C414.7 463.0 393.3 435.0 388.0 428.0C389.7 420.0 396.3 388.0 398.0 380.0C405.0 366.7 433.0 313.3 440.0 300.0Z" fill="#c80000" stroke="#8a0a00" stroke-width="0.8" stroke-linejoin="round"/>
<path d="M173.5 303.0C175.6 301.5 180.2 296.2 186.0 294.0C191.8 291.8 201.0 290.7 208.0 290.0C215.0 289.3 224.7 290.0 228.0 290.0C233.7 308.3 256.3 381.7 262.0 400.0C263.7 408.3 270.3 441.7 272.0 450.0C260.0 475.0 212.0 575.0 200.0 600.0C200.7 624.2 203.3 720.8 204.0 745.0C204.2 749.2 204.6 760.2 205.5 770.0C206.4 779.8 211.2 795.2 209.5 804.0C207.8 812.8 201.9 818.5 195.0 822.5C188.1 826.5 177.0 828.4 168.0 828.0C159.0 827.6 147.9 824.2 141.0 820.0C134.1 815.8 129.1 809.7 126.5 803.0C123.9 796.3 125.5 792.7 125.5 780.0C125.5 767.3 126.4 744.5 126.5 727.0C126.6 709.5 126.1 689.2 126.0 675.0C125.9 660.8 126.3 649.7 126.0 641.7C125.7 633.7 125.2 631.7 124.0 627.0C122.8 622.3 120.9 618.6 118.7 613.7C116.5 608.8 112.9 602.6 110.7 597.7C108.5 592.8 106.5 589.0 105.3 584.3C104.0 579.6 103.1 574.6 103.2 569.7C103.3 564.8 104.5 561.6 106.0 555.0C107.5 548.4 109.1 539.2 112.0 530.0C114.9 520.8 120.6 508.2 123.5 500.0C126.4 491.8 127.5 487.0 129.5 481.0C131.5 475.0 133.2 469.7 135.5 464.0C137.8 458.3 139.3 456.2 143.0 447.0C146.7 437.8 153.3 421.5 157.5 409.0C161.7 396.5 165.3 383.5 168.0 372.0C170.7 360.5 172.8 349.3 173.5 340.0C174.2 330.7 172.0 322.2 172.0 316.0C172.0 309.8 173.2 305.2 173.5 303.0Z" fill="#0062b8" stroke="#0a58e6" stroke-width="1.2" stroke-linejoin="round"/>
<path d="M250.0 239.0C245.7 239.0 230.5 237.5 224.0 239.0C217.5 240.5 213.7 244.3 211.0 248.0C208.3 251.7 207.2 256.5 208.0 261.0C208.8 265.5 212.3 272.2 216.0 275.0C219.7 277.8 224.3 277.3 230.0 278.0C235.7 278.7 246.7 278.8 250.0 279.0C250.0 272.3 250.0 245.7 250.0 239.0Z" fill="#0062b8" stroke="#0a58e6" stroke-width="1.2" stroke-linejoin="round"/>
<path d="M284.8 130.0C287.3 128.2 295.0 121.8 300.0 119.0C305.0 116.2 312.2 114.4 314.7 113.5C316.5 117.1 320.2 127.3 325.3 135.3C330.4 143.3 342.0 157.1 345.3 161.5C347.8 161.2 354.9 161.7 360.0 160.0C365.1 158.3 370.7 156.3 376.0 151.3C381.3 146.3 388.2 135.7 392.0 130.0C395.8 124.3 396.0 119.8 398.7 117.0C401.4 114.2 404.7 114.0 408.0 113.5C411.3 113.0 415.8 113.3 418.5 114.2C421.2 115.1 423.8 117.0 424.5 119.0C425.2 121.0 423.9 123.2 422.5 126.0C421.1 128.8 417.8 132.7 416.0 136.0C414.2 139.3 412.5 142.8 411.5 146.0C410.5 149.2 410.2 153.5 410.0 155.0C411.0 152.6 413.2 144.9 416.0 140.7C418.8 136.5 423.1 132.0 426.7 130.0C430.2 128.0 433.8 127.4 437.3 128.7C440.9 130.0 444.9 135.1 448.0 138.0C451.1 140.9 454.7 144.7 456.0 146.0C454.2 147.1 448.0 149.1 445.3 152.7C442.6 156.2 440.0 161.8 440.0 167.3C440.0 172.9 442.2 178.9 445.3 186.0C448.4 193.1 455.1 200.7 458.7 210.0C462.3 219.3 465.1 231.7 466.7 242.0C468.3 252.3 468.6 260.7 468.5 272.0C468.4 283.3 466.4 303.7 466.0 310.0C463.3 313.3 452.7 326.7 450.0 330.0C441.7 338.3 408.3 371.7 400.0 380.0C388.3 386.7 341.7 413.3 330.0 420.0C323.3 416.7 296.7 403.3 290.0 400.0C287.8 402.5 279.6 410.0 277.0 415.0C274.4 420.0 275.5 426.0 274.5 430.0C273.5 434.0 272.6 436.8 271.0 439.0C269.4 441.2 267.5 443.3 265.0 443.5C262.5 443.7 259.2 442.2 256.0 440.0C252.8 437.8 249.3 434.3 246.0 430.0C242.7 425.7 239.2 421.0 236.0 414.0C232.8 407.0 229.6 397.3 227.0 388.0C224.4 378.7 221.8 367.7 220.5 358.0C219.2 348.3 219.0 338.7 219.2 330.0C219.4 321.3 220.3 313.3 221.5 306.0C222.7 298.7 224.1 293.4 226.2 286.0C228.3 278.6 230.9 269.5 234.0 261.5C237.1 253.5 240.9 244.9 245.0 238.0C249.1 231.1 254.6 224.9 258.3 219.8C262.0 214.7 264.2 211.3 267.1 207.6C270.1 203.9 273.0 200.8 276.0 197.6C279.0 194.4 282.1 191.5 284.9 188.7C287.7 185.9 290.6 183.4 292.6 181.0C294.6 178.6 296.1 176.7 297.1 174.3C298.1 171.9 298.5 169.2 298.7 166.6C298.9 164.0 298.8 161.8 298.2 158.8C297.6 155.8 296.3 152.1 294.8 148.8C293.3 145.5 291.0 141.9 289.3 138.8C287.6 135.7 285.6 131.5 284.8 130.0Z" fill="url(#gAo)" stroke="#8a0a00" stroke-width="1.5" stroke-linejoin="round"/>
<path d="M345.3 161.5L353.5 171.5M410 154L409.3 175" stroke="#8a0a00" stroke-width="1.2" fill="none"/>
<path d="M352.0 276.0C352.8 272.8 360.3 270.3 365.0 270.5C369.7 270.7 375.8 274.8 380.0 277.0C384.2 279.2 393.3 281.8 390.0 284.0C386.7 286.2 366.3 291.3 360.0 290.0C353.7 288.7 351.2 279.2 352.0 276.0Z" fill="#ffffff"/>
<path d="M354.7 274.0C360.0 272.0 364.7 273.7 370.0 275.0C375.3 276.3 377.2 279.7 386.7 282.0C396.1 284.3 413.4 287.4 426.7 288.7C440.0 290.0 455.0 290.2 466.7 290.0C478.4 289.8 489.1 286.8 497.0 287.5C504.9 288.2 510.1 289.9 514.0 294.0C517.9 298.1 520.4 305.7 520.2 312.0C520.0 318.3 516.9 327.6 513.0 332.0C509.1 336.4 502.5 337.2 497.0 338.5C491.5 339.8 486.2 338.9 480.0 340.0C473.8 341.1 466.3 343.0 460.0 345.0C453.7 347.0 447.4 349.3 442.0 352.2C436.6 355.1 431.6 358.9 427.7 362.2C423.8 365.5 421.2 368.8 418.8 372.1C416.4 375.4 415.5 378.4 413.3 382.1C411.1 385.8 408.1 390.5 405.5 394.3C402.9 398.1 399.2 403.2 398.0 405.0C396.7 407.5 391.3 417.5 390.0 420.0C376.7 420.0 323.3 420.0 310.0 420.0C311.0 410.3 315.0 371.7 316.0 362.0C317.5 359.2 322.3 350.8 325.0 345.0C327.7 339.2 331.2 333.7 332.0 327.0C332.8 320.3 329.0 311.7 330.0 305.0C331.0 298.3 333.9 292.2 338.0 287.0C342.1 281.8 349.4 276.0 354.7 274.0Z" fill="#0062b8" stroke="#0a58e6" stroke-width="1.2" stroke-linejoin="round"/>
<path d="M130.5 488.0C134.3 480.3 138.6 472.6 142.0 466.0C145.4 459.4 147.7 453.8 151.1 448.3C154.5 442.9 158.5 437.8 162.2 433.3C165.9 428.8 169.6 424.8 173.3 421.1C177.0 417.4 180.7 413.8 184.4 411.1C188.1 408.4 191.9 406.5 195.6 405.0C199.3 403.5 203.0 402.3 206.7 402.2C210.4 402.1 214.1 402.5 217.8 404.4C221.5 406.2 225.2 409.9 228.9 413.3C232.6 416.7 236.3 421.3 240.0 425.0C243.7 428.7 247.8 432.7 251.1 435.6C254.4 438.5 257.4 441.0 260.0 442.5C262.6 444.0 265.8 444.2 267.0 444.5C268.7 440.8 273.4 430.2 277.3 422.0C281.2 413.8 285.8 403.1 290.7 395.0C295.6 386.9 301.8 379.1 306.7 373.3C311.6 367.5 315.6 363.6 320.0 360.0C324.4 356.4 327.8 353.8 333.3 352.0C338.9 350.2 347.3 349.5 353.3 349.5C359.3 349.5 364.4 350.0 369.3 352.0C374.2 354.0 378.9 357.5 382.7 361.3C386.5 365.1 389.7 369.4 392.0 374.7C394.3 380.0 395.2 388.1 396.5 393.3C397.8 398.5 398.2 401.6 399.5 406.0C400.8 410.4 403.7 417.2 404.5 419.5C405.6 417.5 408.2 411.1 411.0 407.5C413.8 403.9 417.1 400.7 421.5 398.0C425.9 395.3 431.9 391.9 437.3 391.5C442.7 391.1 448.8 393.3 453.9 395.3C459.0 397.3 463.2 399.9 467.8 403.6C472.4 407.3 477.5 413.1 481.7 417.5C485.9 421.9 489.6 426.1 492.8 430.0C496.0 433.9 498.6 437.2 501.1 441.1C503.7 445.0 506.2 449.4 508.1 453.6C510.0 457.8 511.2 461.7 512.2 466.1C513.2 470.5 514.0 475.9 514.3 480.0C514.6 484.1 513.3 487.5 514.0 491.0C514.7 494.5 515.3 497.9 518.5 501.0C521.7 504.1 528.6 504.4 533.3 509.3C538.0 514.2 542.2 522.7 546.7 530.7C551.2 538.7 556.5 548.9 560.0 557.3C563.5 565.7 565.8 570.8 568.0 581.3C570.2 591.8 572.2 606.9 573.3 620.0C574.4 633.1 574.5 647.5 574.7 660.0C575.0 672.5 575.2 682.5 574.8 695.0C574.3 707.5 573.5 722.3 572.0 735.0C570.5 747.7 569.7 760.2 566.0 771.0C562.3 781.8 556.7 791.7 550.0 800.0C543.3 808.3 536.7 815.4 526.0 821.0C515.3 826.6 499.3 830.7 486.0 833.5C472.7 836.3 459.3 837.1 446.0 838.0C432.7 838.9 419.3 839.1 406.0 839.0C392.7 838.9 379.3 838.7 366.0 837.5C352.7 836.3 339.3 834.5 326.0 832.0C312.7 829.5 299.3 826.8 286.0 822.5C272.7 818.2 259.2 811.9 246.0 806.0C232.8 800.1 215.7 792.0 207.0 787.0C198.3 782.0 199.7 781.8 194.0 776.0C188.3 770.2 179.3 761.3 172.6 752.0C165.9 742.7 158.8 729.5 154.0 720.0C149.2 710.5 146.4 702.5 144.0 695.0C141.6 687.5 140.6 680.5 139.5 675.0C138.4 669.5 137.9 667.2 137.3 661.7C136.7 656.2 136.3 648.4 136.0 641.7C135.7 635.0 136.0 626.8 135.3 621.7C134.6 616.6 134.3 613.9 132.0 611.0C129.7 608.1 124.6 607.4 121.3 604.3C118.0 601.2 114.7 597.2 112.0 592.3C109.3 587.4 106.5 580.9 105.3 575.0C104.0 569.1 104.0 562.8 104.5 557.0C105.0 551.2 106.1 547.5 108.5 540.0C110.9 532.5 115.3 520.7 119.0 512.0C122.7 503.3 126.7 495.7 130.5 488.0Z" fill="#e8bf9b" stroke="#ffffff" stroke-width="2" stroke-linejoin="round"/>
<path d="M206.7 415.6C203.0 415.9 199.3 416.6 195.6 417.8C191.9 419.0 188.1 420.3 184.4 422.8C180.7 425.3 177.0 428.9 173.3 432.8C169.6 436.7 165.8 441.2 162.2 446.1C158.6 451.1 154.9 456.7 151.5 462.5C148.1 468.3 144.8 474.4 142.0 481.0C139.2 487.6 136.9 495.7 134.5 502.0C132.1 508.3 129.5 513.0 127.5 519.0C125.5 525.0 123.8 532.0 122.5 538.0C121.2 544.0 120.0 549.8 119.8 555.0C119.5 560.2 120.0 564.5 121.0 569.0C122.0 573.5 123.7 577.8 125.5 582.0C127.3 586.2 129.4 590.6 132.0 594.0C134.6 597.4 139.5 600.9 141.0 602.3C142.5 601.5 146.4 599.2 150.0 597.5C153.6 595.8 158.4 593.5 162.7 592.3C167.0 591.1 171.7 590.3 176.0 590.3C180.3 590.3 183.4 591.0 188.3 592.3C193.2 593.5 198.5 594.7 205.3 597.8C212.1 600.9 221.9 606.8 229.3 610.7C236.8 614.7 245.6 619.3 250.0 621.5C254.4 623.7 254.3 623.0 255.5 624.0C256.7 625.0 256.8 626.9 257.0 627.5L266.5 612.5C266.0 612.0 264.2 610.9 263.5 609.5C262.8 608.1 263.2 607.4 262.0 604.0C260.8 600.6 258.8 595.3 256.0 589.3C253.2 583.3 248.0 575.1 245.3 568.0C242.6 560.9 240.4 554.7 240.0 546.7C239.6 538.7 241.2 527.8 242.7 520.0C244.2 512.2 247.0 505.5 249.0 500.0C251.0 494.5 252.8 491.3 254.5 487.0C256.2 482.7 258.2 478.0 259.0 474.0C259.8 470.0 260.3 466.9 259.5 463.0C258.7 459.1 256.7 454.2 254.4 450.6C252.1 447.1 248.9 445.0 245.6 441.7C242.3 438.4 237.9 434.1 234.4 430.6C230.9 427.1 227.2 423.0 224.4 420.6C221.6 418.2 220.8 416.8 217.8 416.0C214.9 415.2 210.4 415.3 206.7 415.6Z" fill="url(#gRA)"/><path d="M206.7 415.6C203.0 415.9 199.3 416.6 195.6 417.8C191.9 419.0 188.1 420.3 184.4 422.8C180.7 425.3 177.0 428.9 173.3 432.8C169.6 436.7 165.8 441.2 162.2 446.1C158.6 451.1 154.9 456.7 151.5 462.5C148.1 468.3 144.8 474.4 142.0 481.0C139.2 487.6 136.9 495.7 134.5 502.0C132.1 508.3 129.5 513.0 127.5 519.0C125.5 525.0 123.8 532.0 122.5 538.0C121.2 544.0 120.0 549.8 119.8 555.0C119.5 560.2 120.0 564.5 121.0 569.0C122.0 573.5 123.7 577.8 125.5 582.0C127.3 586.2 129.4 590.6 132.0 594.0C134.6 597.4 139.5 600.9 141.0 602.3C142.5 601.5 146.4 599.2 150.0 597.5C153.6 595.8 158.4 593.5 162.7 592.3C167.0 591.1 171.7 590.3 176.0 590.3C180.3 590.3 183.4 591.0 188.3 592.3C193.2 593.5 198.5 594.7 205.3 597.8C212.1 600.9 221.9 606.8 229.3 610.7C236.8 614.7 245.6 619.3 250.0 621.5C254.4 623.7 254.3 623.0 255.5 624.0C256.7 625.0 256.8 626.9 257.0 627.5M266.5 612.5C266.0 612.0 264.2 610.9 263.5 609.5C262.8 608.1 263.2 607.4 262.0 604.0C260.8 600.6 258.8 595.3 256.0 589.3C253.2 583.3 248.0 575.1 245.3 568.0C242.6 560.9 240.4 554.7 240.0 546.7C239.6 538.7 241.2 527.8 242.7 520.0C244.2 512.2 247.0 505.5 249.0 500.0C251.0 494.5 252.8 491.3 254.5 487.0C256.2 482.7 258.2 478.0 259.0 474.0C259.8 470.0 260.3 466.9 259.5 463.0C258.7 459.1 256.7 454.2 254.4 450.6C252.1 447.1 248.9 445.0 245.6 441.7C242.3 438.4 237.9 434.1 234.4 430.6C230.9 427.1 227.2 423.0 224.4 420.6C221.6 418.2 220.8 416.8 217.8 416.0C214.9 415.2 210.4 415.3 206.7 415.6" fill="none" stroke="#ffffff" stroke-width="2" stroke-linejoin="round" stroke-linecap="round"/>
<path d="M174.0 452.0C170.0 448.7 180.3 442.6 184.0 439.0C187.7 435.4 192.0 432.5 196.0 430.5C200.0 428.5 204.0 427.0 208.0 427.0C212.0 427.0 216.3 428.3 220.0 430.5C223.7 432.7 227.0 436.4 230.0 440.0C233.0 443.6 241.7 448.8 238.0 452.0C234.3 455.2 218.7 459.0 208.0 459.0C197.3 459.0 178.0 455.3 174.0 452.0Z" fill="url(#gRAtop)"/>
<path d="M126.0 553.0C128.2 549.7 134.8 550.8 140.0 552.0C145.2 553.2 152.0 557.2 157.0 560.0C162.0 562.8 164.8 567.0 170.0 569.0C175.2 571.0 184.8 570.3 188.0 572.0C191.2 573.7 191.2 577.0 189.0 579.0C186.8 581.0 180.7 582.7 175.0 584.0C169.3 585.3 160.5 585.7 155.0 587.0C149.5 588.3 145.7 591.8 142.0 592.0C138.3 592.2 135.5 591.3 133.0 588.0C130.5 584.7 128.2 577.8 127.0 572.0C125.8 566.2 123.8 556.3 126.0 553.0Z" fill="url(#gRAsh)" filter="url(#fBlur)"/>
<clipPath id="cRV"><path d="M347.5 493.0C346.2 493.4 342.1 495.7 340.0 495.5C337.9 495.3 335.2 493.9 334.7 492.0C334.1 490.1 336.5 486.9 336.7 484.0C336.9 481.1 337.2 477.8 336.0 474.7C334.8 471.6 331.3 468.6 329.3 465.3C327.3 462.0 325.1 457.7 324.0 454.7C322.9 451.7 322.9 448.7 322.7 447.5C322.0 448.2 320.7 450.6 318.7 452.0C316.7 453.4 313.8 454.7 310.7 456.0C307.6 457.3 303.6 458.4 300.0 460.0C296.4 461.6 292.6 463.1 289.3 465.3C286.0 467.5 283.1 470.4 280.0 473.3C276.9 476.2 273.6 479.4 270.7 482.7C267.8 486.0 264.7 490.2 262.7 493.3C260.7 496.4 260.5 496.0 258.7 501.3C256.9 506.6 253.1 516.8 252.0 525.3C250.9 533.8 250.9 544.0 252.0 552.0C253.1 560.0 256.2 566.2 258.7 573.3C261.1 580.4 264.8 589.2 266.7 594.7C268.6 600.2 269.5 603.4 270.0 606.0C270.5 608.6 270.1 609.4 269.5 610.5C268.9 611.6 267.0 612.2 266.5 612.5L257.0 627.5C256.6 628.0 255.7 630.1 254.5 630.5C253.3 630.9 252.1 630.6 250.0 630.0C247.9 629.4 245.3 628.5 241.7 626.7C238.1 624.9 232.8 621.6 228.3 619.0C223.9 616.4 219.4 613.5 215.0 611.0C210.6 608.5 206.1 605.7 201.7 604.3C197.2 602.9 191.9 602.4 188.3 602.5C184.7 602.6 182.2 603.6 180.3 605.0C178.4 606.4 177.0 608.8 177.0 610.7C177.0 612.7 178.4 615.4 180.3 616.7C182.2 618.0 185.5 618.5 188.3 618.7C191.1 618.9 194.5 617.5 197.3 618.0C200.1 618.5 204.6 620.4 205.3 621.7C206.0 623.0 201.7 623.9 201.3 625.7C200.9 627.5 201.1 630.8 202.7 632.3C204.3 633.8 208.0 633.7 210.7 635.0C213.4 636.3 218.3 637.6 218.7 640.3C219.1 643.0 214.6 647.7 213.3 651.0C212.0 654.3 210.2 657.6 210.7 660.3C211.1 663.0 213.8 666.3 216.0 667.0C218.2 667.7 221.8 663.8 224.0 664.3C226.2 664.8 229.1 667.0 229.3 669.7C229.5 672.4 224.9 677.4 225.3 680.3C225.8 683.2 229.6 686.5 232.0 687.0C234.4 687.5 237.3 683.9 240.0 683.0C242.7 682.1 245.8 680.4 248.0 681.7C250.2 683.0 251.1 688.1 253.3 691.0C255.5 693.9 258.2 698.1 261.3 699.0C264.4 699.9 268.0 697.2 272.0 696.3C276.0 695.4 281.8 693.0 285.3 693.7C288.9 694.4 291.1 697.6 293.3 700.3C295.5 703.0 296.2 707.2 298.7 709.7C301.1 712.2 306.2 712.3 308.0 715.0C309.8 717.7 309.5 721.7 309.3 725.7C309.1 729.7 306.2 735.7 306.7 739.0C307.1 742.3 310.0 745.7 312.0 745.7C314.0 745.7 317.4 741.9 318.7 739.0C320.0 736.1 319.3 731.2 320.0 728.3C320.7 725.4 321.4 722.8 322.7 721.7C324.0 720.6 326.7 720.6 328.0 721.7C329.3 722.8 329.4 726.8 330.7 728.3C332.0 729.8 333.6 731.0 336.0 731.0C338.4 731.0 343.1 727.4 345.3 728.3C347.5 729.2 347.5 733.6 349.3 736.3C351.1 739.0 353.8 743.4 356.0 744.3C358.2 745.2 362.2 743.0 362.7 741.7C363.1 740.4 360.3 739.0 358.7 736.3C357.1 733.6 354.0 729.2 353.3 725.7C352.6 722.2 353.6 717.2 354.7 715.0C355.8 712.8 357.6 713.6 360.0 712.3C362.4 711.0 367.5 711.0 369.3 707.0C371.1 703.0 370.7 695.8 370.7 688.3C370.7 680.8 370.6 671.0 369.3 661.7C368.0 652.4 365.1 642.1 362.7 632.3C360.3 622.5 356.7 612.3 354.7 603.0C352.7 593.7 351.5 583.1 350.7 576.3C349.9 569.5 350.1 564.4 350.0 562.0L347.5 493.0Z"/></clipPath>
<path d="M347.5 493.0C346.2 493.4 342.1 495.7 340.0 495.5C337.9 495.3 335.2 493.9 334.7 492.0C334.1 490.1 336.5 486.9 336.7 484.0C336.9 481.1 337.2 477.8 336.0 474.7C334.8 471.6 331.3 468.6 329.3 465.3C327.3 462.0 325.1 457.7 324.0 454.7C322.9 451.7 322.9 448.7 322.7 447.5C322.0 448.2 320.7 450.6 318.7 452.0C316.7 453.4 313.8 454.7 310.7 456.0C307.6 457.3 303.6 458.4 300.0 460.0C296.4 461.6 292.6 463.1 289.3 465.3C286.0 467.5 283.1 470.4 280.0 473.3C276.9 476.2 273.6 479.4 270.7 482.7C267.8 486.0 264.7 490.2 262.7 493.3C260.7 496.4 260.5 496.0 258.7 501.3C256.9 506.6 253.1 516.8 252.0 525.3C250.9 533.8 250.9 544.0 252.0 552.0C253.1 560.0 256.2 566.2 258.7 573.3C261.1 580.4 264.8 589.2 266.7 594.7C268.6 600.2 269.5 603.4 270.0 606.0C270.5 608.6 270.1 609.4 269.5 610.5C268.9 611.6 267.0 612.2 266.5 612.5L257.0 627.5C256.6 628.0 255.7 630.1 254.5 630.5C253.3 630.9 252.1 630.6 250.0 630.0C247.9 629.4 245.3 628.5 241.7 626.7C238.1 624.9 232.8 621.6 228.3 619.0C223.9 616.4 219.4 613.5 215.0 611.0C210.6 608.5 206.1 605.7 201.7 604.3C197.2 602.9 191.9 602.4 188.3 602.5C184.7 602.6 182.2 603.6 180.3 605.0C178.4 606.4 177.0 608.8 177.0 610.7C177.0 612.7 178.4 615.4 180.3 616.7C182.2 618.0 185.5 618.5 188.3 618.7C191.1 618.9 194.5 617.5 197.3 618.0C200.1 618.5 204.6 620.4 205.3 621.7C206.0 623.0 201.7 623.9 201.3 625.7C200.9 627.5 201.1 630.8 202.7 632.3C204.3 633.8 208.0 633.7 210.7 635.0C213.4 636.3 218.3 637.6 218.7 640.3C219.1 643.0 214.6 647.7 213.3 651.0C212.0 654.3 210.2 657.6 210.7 660.3C211.1 663.0 213.8 666.3 216.0 667.0C218.2 667.7 221.8 663.8 224.0 664.3C226.2 664.8 229.1 667.0 229.3 669.7C229.5 672.4 224.9 677.4 225.3 680.3C225.8 683.2 229.6 686.5 232.0 687.0C234.4 687.5 237.3 683.9 240.0 683.0C242.7 682.1 245.8 680.4 248.0 681.7C250.2 683.0 251.1 688.1 253.3 691.0C255.5 693.9 258.2 698.1 261.3 699.0C264.4 699.9 268.0 697.2 272.0 696.3C276.0 695.4 281.8 693.0 285.3 693.7C288.9 694.4 291.1 697.6 293.3 700.3C295.5 703.0 296.2 707.2 298.7 709.7C301.1 712.2 306.2 712.3 308.0 715.0C309.8 717.7 309.5 721.7 309.3 725.7C309.1 729.7 306.2 735.7 306.7 739.0C307.1 742.3 310.0 745.7 312.0 745.7C314.0 745.7 317.4 741.9 318.7 739.0C320.0 736.1 319.3 731.2 320.0 728.3C320.7 725.4 321.4 722.8 322.7 721.7C324.0 720.6 326.7 720.6 328.0 721.7C329.3 722.8 329.4 726.8 330.7 728.3C332.0 729.8 333.6 731.0 336.0 731.0C338.4 731.0 343.1 727.4 345.3 728.3C347.5 729.2 347.5 733.6 349.3 736.3C351.1 739.0 353.8 743.4 356.0 744.3C358.2 745.2 362.2 743.0 362.7 741.7C363.1 740.4 360.3 739.0 358.7 736.3C357.1 733.6 354.0 729.2 353.3 725.7C352.6 722.2 353.6 717.2 354.7 715.0C355.8 712.8 357.6 713.6 360.0 712.3C362.4 711.0 367.5 711.0 369.3 707.0C371.1 703.0 370.7 695.8 370.7 688.3C370.7 680.8 370.6 671.0 369.3 661.7C368.0 652.4 365.1 642.1 362.7 632.3C360.3 622.5 356.7 612.3 354.7 603.0C352.7 593.7 351.5 583.1 350.7 576.3C349.9 569.5 350.1 564.4 350.0 562.0L347.5 493.0Z" fill="#0062b8"/>
<circle cx="347" cy="532" r="68" fill="url(#gVSD)" clip-path="url(#cRV)"/>
<path d="M347.5 493.0C346.2 493.4 342.1 495.7 340.0 495.5C337.9 495.3 335.2 493.9 334.7 492.0C334.1 490.1 336.5 486.9 336.7 484.0C336.9 481.1 337.2 477.8 336.0 474.7C334.8 471.6 331.3 468.6 329.3 465.3C327.3 462.0 325.1 457.7 324.0 454.7C322.9 451.7 322.9 448.7 322.7 447.5C322.0 448.2 320.7 450.6 318.7 452.0C316.7 453.4 313.8 454.7 310.7 456.0C307.6 457.3 303.6 458.4 300.0 460.0C296.4 461.6 292.6 463.1 289.3 465.3C286.0 467.5 283.1 470.4 280.0 473.3C276.9 476.2 273.6 479.4 270.7 482.7C267.8 486.0 264.7 490.2 262.7 493.3C260.7 496.4 260.5 496.0 258.7 501.3C256.9 506.6 253.1 516.8 252.0 525.3C250.9 533.8 250.9 544.0 252.0 552.0C253.1 560.0 256.2 566.2 258.7 573.3C261.1 580.4 264.8 589.2 266.7 594.7C268.6 600.2 269.5 603.4 270.0 606.0C270.5 608.6 270.1 609.4 269.5 610.5C268.9 611.6 267.0 612.2 266.5 612.5M257.0 627.5C256.6 628.0 255.7 630.1 254.5 630.5C253.3 630.9 252.1 630.6 250.0 630.0C247.9 629.4 245.3 628.5 241.7 626.7C238.1 624.9 232.8 621.6 228.3 619.0C223.9 616.4 219.4 613.5 215.0 611.0C210.6 608.5 206.1 605.7 201.7 604.3C197.2 602.9 191.9 602.4 188.3 602.5C184.7 602.6 182.2 603.6 180.3 605.0C178.4 606.4 177.0 608.8 177.0 610.7C177.0 612.7 178.4 615.4 180.3 616.7C182.2 618.0 185.5 618.5 188.3 618.7C191.1 618.9 194.5 617.5 197.3 618.0C200.1 618.5 204.6 620.4 205.3 621.7C206.0 623.0 201.7 623.9 201.3 625.7C200.9 627.5 201.1 630.8 202.7 632.3C204.3 633.8 208.0 633.7 210.7 635.0C213.4 636.3 218.3 637.6 218.7 640.3C219.1 643.0 214.6 647.7 213.3 651.0C212.0 654.3 210.2 657.6 210.7 660.3C211.1 663.0 213.8 666.3 216.0 667.0C218.2 667.7 221.8 663.8 224.0 664.3C226.2 664.8 229.1 667.0 229.3 669.7C229.5 672.4 224.9 677.4 225.3 680.3C225.8 683.2 229.6 686.5 232.0 687.0C234.4 687.5 237.3 683.9 240.0 683.0C242.7 682.1 245.8 680.4 248.0 681.7C250.2 683.0 251.1 688.1 253.3 691.0C255.5 693.9 258.2 698.1 261.3 699.0C264.4 699.9 268.0 697.2 272.0 696.3C276.0 695.4 281.8 693.0 285.3 693.7C288.9 694.4 291.1 697.6 293.3 700.3C295.5 703.0 296.2 707.2 298.7 709.7C301.1 712.2 306.2 712.3 308.0 715.0C309.8 717.7 309.5 721.7 309.3 725.7C309.1 729.7 306.2 735.7 306.7 739.0C307.1 742.3 310.0 745.7 312.0 745.7C314.0 745.7 317.4 741.9 318.7 739.0C320.0 736.1 319.3 731.2 320.0 728.3C320.7 725.4 321.4 722.8 322.7 721.7C324.0 720.6 326.7 720.6 328.0 721.7C329.3 722.8 329.4 726.8 330.7 728.3C332.0 729.8 333.6 731.0 336.0 731.0C338.4 731.0 343.1 727.4 345.3 728.3C347.5 729.2 347.5 733.6 349.3 736.3C351.1 739.0 353.8 743.4 356.0 744.3C358.2 745.2 362.2 743.0 362.7 741.7C363.1 740.4 360.3 739.0 358.7 736.3C357.1 733.6 354.0 729.2 353.3 725.7C352.6 722.2 353.6 717.2 354.7 715.0C355.8 712.8 357.6 713.6 360.0 712.3C362.4 711.0 367.5 711.0 369.3 707.0C371.1 703.0 370.7 695.8 370.7 688.3C370.7 680.8 370.6 671.0 369.3 661.7C368.0 652.4 365.1 642.1 362.7 632.3C360.3 622.5 356.7 612.3 354.7 603.0C352.7 593.7 351.5 583.1 350.7 576.3C349.9 569.5 350.1 564.4 350.0 562.0" fill="none" stroke="#fff" stroke-width="2" stroke-linejoin="round" stroke-linecap="round"/>
<path d="M267.5 613Q266.5 622 258 628.5" stroke="#0a58e6" stroke-width="1.6" fill="none"/>
<path d="M356.0 361.3C360.9 360.9 365.3 361.4 369.3 362.7C373.3 364.0 377.3 366.4 380.0 369.3C382.7 372.2 384.6 376.2 385.3 380.0C386.0 383.8 385.6 388.2 384.0 392.0C382.4 395.8 378.9 399.1 376.0 402.7C373.1 406.2 369.8 409.8 366.7 413.3C363.6 416.9 360.0 420.7 357.3 424.0C354.6 427.3 352.7 430.9 350.7 433.3C348.7 435.8 347.5 437.5 345.3 438.7C343.1 439.9 340.0 440.3 337.3 440.7C334.6 441.1 331.4 440.5 329.3 441.3C327.2 442.1 325.8 443.5 324.7 445.3C323.6 447.1 323.0 450.9 322.7 452.0C322.2 450.2 321.1 444.4 320.0 441.3C318.9 438.2 316.8 436.0 316.0 433.3C315.2 430.6 314.9 428.2 315.3 425.3C315.8 422.4 318.0 419.1 318.7 416.0C319.4 412.9 319.3 409.8 319.3 406.7C319.3 403.6 318.1 400.9 318.7 397.3C319.3 393.7 320.9 389.3 322.7 385.3C324.5 381.3 326.4 376.6 329.3 373.3C332.2 370.0 335.6 367.3 340.0 365.3C344.4 363.3 351.1 361.7 356.0 361.3Z" fill="url(#gPV)" stroke="#ffffff" stroke-width="2" stroke-linejoin="round"/>
<path d="M347.5 493.0C348.9 492.2 352.8 489.2 356.0 488.0C359.2 486.8 363.4 486.9 366.7 486.0C370.0 485.1 373.3 484.1 376.0 482.7C378.7 481.2 381.5 478.9 382.7 477.3C383.9 475.7 383.8 474.3 383.3 473.3C382.9 472.3 381.4 471.1 380.0 471.3C378.6 471.5 376.9 473.7 374.7 474.7C372.5 475.7 369.1 477.3 366.7 477.3C364.2 477.3 361.6 476.5 360.0 474.7C358.4 472.9 357.4 469.6 357.3 466.7C357.2 463.8 358.0 460.6 359.3 457.3C360.6 454.0 363.4 449.6 365.3 446.7C367.2 443.8 368.8 442.4 370.7 440.0C372.6 437.6 374.6 434.2 377.0 432.0C379.4 429.8 382.6 426.7 385.3 426.7C388.0 426.7 390.6 429.3 393.3 432.0C396.0 434.7 398.6 438.9 401.3 442.7C404.0 446.5 406.9 450.7 409.3 454.7C411.8 458.7 414.4 462.9 416.0 466.7C417.6 470.5 418.5 474.2 418.7 477.3C418.9 480.4 418.4 483.7 417.3 485.3C416.2 486.9 413.8 487.1 412.0 486.7C410.2 486.3 408.0 484.7 406.7 482.7C405.4 480.7 404.9 476.5 404.0 474.7C403.1 472.9 402.3 472.0 401.3 472.0C400.3 472.0 398.6 473.4 398.0 474.7C397.4 476.0 397.4 478.0 398.0 480.0C398.6 482.0 399.4 484.5 401.3 486.7C403.2 488.9 406.6 491.1 409.3 493.3C412.0 495.5 415.5 497.3 417.3 500.0C419.1 502.7 419.1 507.1 420.0 509.3C420.9 511.5 421.6 513.1 422.7 513.3C423.8 513.5 425.4 511.7 426.7 510.7C428.0 509.7 429.1 507.4 430.7 507.3C432.2 507.2 434.4 507.9 436.0 510.0C437.6 512.1 439.1 516.5 440.0 520.0C440.9 523.5 440.9 527.5 441.3 530.7C441.7 533.9 441.6 537.9 442.5 539.0C443.4 540.1 445.1 537.2 446.5 537.5C447.9 537.8 449.1 540.8 450.7 540.5C452.3 540.2 454.0 538.5 456.0 536.0C458.0 533.5 460.2 528.4 462.7 525.3C465.1 522.2 467.8 519.1 470.7 517.3C473.6 515.5 476.7 514.5 480.0 514.7C483.3 514.9 487.8 516.7 490.7 518.7C493.6 520.7 495.8 523.6 497.3 526.7C498.9 529.8 499.1 533.5 500.0 537.3C500.9 541.1 501.4 545.5 502.7 549.3C504.0 553.1 506.2 556.4 508.0 560.0C509.8 563.6 512.0 566.7 513.3 570.7C514.6 574.7 515.3 578.8 516.0 584.0C516.7 589.2 516.4 595.5 517.3 602.0C518.2 608.5 520.2 617.2 521.3 623.0C522.4 628.8 525.4 632.0 524.0 637.0C522.6 642.0 514.8 648.5 513.0 653.0C511.2 657.5 511.4 660.3 513.3 664.0C515.2 667.7 523.3 671.3 524.5 675.0C525.7 678.7 521.0 682.7 520.5 686.0C520.0 689.3 519.8 691.2 521.3 695.0C522.8 698.8 528.1 704.5 529.3 709.0C530.5 713.5 530.3 718.1 528.5 722.0C526.7 725.9 520.8 729.0 518.7 732.3C516.6 735.6 517.3 738.9 516.0 742.0C514.7 745.1 512.7 749.8 510.7 751.0C508.7 752.2 505.1 749.8 504.0 749.5C503.3 751.1 502.4 756.3 500.0 759.0C497.6 761.7 493.3 765.5 489.3 765.7C485.3 765.9 480.9 763.2 476.0 760.3C471.1 757.4 465.3 753.0 460.0 748.3C454.7 743.6 449.6 738.7 444.0 732.3C438.4 725.9 432.2 717.0 426.7 709.7C421.1 702.4 415.6 695.4 410.7 688.3C405.8 681.2 401.3 673.7 397.3 667.0C393.3 660.3 388.9 654.1 386.7 648.3C384.5 642.5 385.8 638.1 384.0 632.3C382.2 626.5 378.7 620.8 376.0 613.7C373.3 606.6 370.7 597.3 368.0 589.7C365.3 582.1 362.2 573.2 360.0 568.3C357.8 563.3 356.7 561.0 355.0 560.0C353.3 559.0 350.8 561.7 350.0 562.0L347.5 493.0Z" fill="url(#gLV2)"/><path d="M347.5 493.0C348.9 492.2 352.8 489.2 356.0 488.0C359.2 486.8 363.4 486.9 366.7 486.0C370.0 485.1 373.3 484.1 376.0 482.7C378.7 481.2 381.5 478.9 382.7 477.3C383.9 475.7 383.8 474.3 383.3 473.3C382.9 472.3 381.4 471.1 380.0 471.3C378.6 471.5 376.9 473.7 374.7 474.7C372.5 475.7 369.1 477.3 366.7 477.3C364.2 477.3 361.6 476.5 360.0 474.7C358.4 472.9 357.4 469.6 357.3 466.7C357.2 463.8 358.0 460.6 359.3 457.3C360.6 454.0 363.4 449.6 365.3 446.7C367.2 443.8 368.8 442.4 370.7 440.0C372.6 437.6 374.6 434.2 377.0 432.0C379.4 429.8 382.6 426.7 385.3 426.7C388.0 426.7 390.6 429.3 393.3 432.0C396.0 434.7 398.6 438.9 401.3 442.7C404.0 446.5 406.9 450.7 409.3 454.7C411.8 458.7 414.4 462.9 416.0 466.7C417.6 470.5 418.5 474.2 418.7 477.3C418.9 480.4 418.4 483.7 417.3 485.3C416.2 486.9 413.8 487.1 412.0 486.7C410.2 486.3 408.0 484.7 406.7 482.7C405.4 480.7 404.9 476.5 404.0 474.7C403.1 472.9 402.3 472.0 401.3 472.0C400.3 472.0 398.6 473.4 398.0 474.7C397.4 476.0 397.4 478.0 398.0 480.0C398.6 482.0 399.4 484.5 401.3 486.7C403.2 488.9 406.6 491.1 409.3 493.3C412.0 495.5 415.5 497.3 417.3 500.0C419.1 502.7 419.1 507.1 420.0 509.3C420.9 511.5 421.6 513.1 422.7 513.3C423.8 513.5 425.4 511.7 426.7 510.7C428.0 509.7 429.1 507.4 430.7 507.3C432.2 507.2 434.4 507.9 436.0 510.0C437.6 512.1 439.1 516.5 440.0 520.0C440.9 523.5 440.9 527.5 441.3 530.7C441.7 533.9 441.6 537.9 442.5 539.0C443.4 540.1 445.1 537.2 446.5 537.5C447.9 537.8 449.1 540.8 450.7 540.5C452.3 540.2 454.0 538.5 456.0 536.0C458.0 533.5 460.2 528.4 462.7 525.3C465.1 522.2 467.8 519.1 470.7 517.3C473.6 515.5 476.7 514.5 480.0 514.7C483.3 514.9 487.8 516.7 490.7 518.7C493.6 520.7 495.8 523.6 497.3 526.7C498.9 529.8 499.1 533.5 500.0 537.3C500.9 541.1 501.4 545.5 502.7 549.3C504.0 553.1 506.2 556.4 508.0 560.0C509.8 563.6 512.0 566.7 513.3 570.7C514.6 574.7 515.3 578.8 516.0 584.0C516.7 589.2 516.4 595.5 517.3 602.0C518.2 608.5 520.2 617.2 521.3 623.0C522.4 628.8 525.4 632.0 524.0 637.0C522.6 642.0 514.8 648.5 513.0 653.0C511.2 657.5 511.4 660.3 513.3 664.0C515.2 667.7 523.3 671.3 524.5 675.0C525.7 678.7 521.0 682.7 520.5 686.0C520.0 689.3 519.8 691.2 521.3 695.0C522.8 698.8 528.1 704.5 529.3 709.0C530.5 713.5 530.3 718.1 528.5 722.0C526.7 725.9 520.8 729.0 518.7 732.3C516.6 735.6 517.3 738.9 516.0 742.0C514.7 745.1 512.7 749.8 510.7 751.0C508.7 752.2 505.1 749.8 504.0 749.5C503.3 751.1 502.4 756.3 500.0 759.0C497.6 761.7 493.3 765.5 489.3 765.7C485.3 765.9 480.9 763.2 476.0 760.3C471.1 757.4 465.3 753.0 460.0 748.3C454.7 743.6 449.6 738.7 444.0 732.3C438.4 725.9 432.2 717.0 426.7 709.7C421.1 702.4 415.6 695.4 410.7 688.3C405.8 681.2 401.3 673.7 397.3 667.0C393.3 660.3 388.9 654.1 386.7 648.3C384.5 642.5 385.8 638.1 384.0 632.3C382.2 626.5 378.7 620.8 376.0 613.7C373.3 606.6 370.7 597.3 368.0 589.7C365.3 582.1 362.2 573.2 360.0 568.3C357.8 563.3 356.7 561.0 355.0 560.0C353.3 559.0 350.8 561.7 350.0 562.0" fill="none" stroke="#ffffff" stroke-width="2" stroke-linejoin="round" stroke-linecap="round"/>
<path d="M440.0 405.3C444.4 404.9 448.9 406.0 453.3 408.0C457.8 410.0 462.2 413.3 466.7 417.3C471.1 421.3 475.8 426.4 480.0 432.0C484.2 437.6 488.9 445.4 492.0 450.7C495.1 456.0 497.1 459.6 498.7 464.0C500.2 468.4 501.2 473.3 501.3 477.3C501.4 481.3 500.3 485.2 499.0 488.0C497.7 490.8 496.5 491.6 493.3 493.8C490.1 496.0 484.4 498.7 480.0 501.3C475.6 503.9 470.7 506.4 466.7 509.3C462.7 512.2 458.9 515.3 456.0 518.7C453.1 522.1 450.6 527.7 449.5 529.5C449.4 528.6 449.1 526.7 448.7 524.0C448.3 521.3 448.1 516.8 447.3 513.3C446.5 509.7 445.7 506.0 444.0 502.7C442.3 499.4 439.1 497.1 437.3 493.3C435.5 489.5 434.6 484.4 433.3 480.0C432.0 475.6 430.9 471.1 429.3 466.7C427.8 462.2 426.0 458.2 424.0 453.3C422.0 448.4 418.4 442.4 417.3 437.3C416.2 432.2 415.7 427.1 417.3 422.7C418.9 418.3 422.9 413.6 426.7 410.7C430.5 407.8 435.6 405.8 440.0 405.3Z" fill="url(#gLV2)" stroke="#ffffff" stroke-width="2" stroke-linejoin="round"/>
<path d="M449.3 530L446.5 537.5" stroke="#fff" stroke-width="1.4" fill="none"/>
<path d="M446.7 420.0C448.2 420.1 452.9 419.8 456.0 420.7C459.1 421.6 463.1 423.4 465.3 425.3C467.5 427.2 468.9 429.8 469.3 432.0C469.8 434.2 468.7 436.8 468.0 438.7C467.3 440.6 465.8 442.7 465.3 443.5C464.1 442.9 460.4 441.9 458.0 440.0C455.6 438.1 452.9 435.3 451.0 432.0C449.1 428.7 447.4 422.0 446.7 420.0Z" fill="url(#gPurp1)"/>
<path d="M478.7 458.5C480.0 458.9 484.3 459.3 486.7 460.7C489.1 462.1 492.0 464.4 493.3 466.7C494.6 469.0 495.1 472.0 494.7 474.7C494.3 477.4 492.0 480.6 490.7 482.7C489.4 484.8 487.4 486.7 486.7 487.5C485.9 486.2 483.3 483.2 482.0 480.0C480.7 476.8 479.6 471.6 479.0 468.0C478.4 464.4 478.8 460.1 478.7 458.5Z" fill="url(#gPurp2)"/>
</g>
<text x="244.0" y="67.7" font-size="39" textLength="235.0" lengthAdjust="spacingAndGlyphs">Normal heart</text>
<text x="842.5" y="68.3" font-size="38.5" textLength="341.0" lengthAdjust="spacingAndGlyphs" font-weight="bold" stroke="#111" stroke-width="0.7">Tetralogy of Fallot</text>
<text x="651.6" y="162.8" font-size="24.5" textLength="174.0" lengthAdjust="spacingAndGlyphs">Overriding aorta</text>
<text x="614.4" y="259.4" font-size="24.5" textLength="98.9" lengthAdjust="spacingAndGlyphs">Pulmonic</text>
<text x="624.4" y="290.5" font-size="24.5" textLength="83.4" lengthAdjust="spacingAndGlyphs">stenosis</text>
<text x="611.5" y="377.6" font-size="24.5" textLength="113.9" lengthAdjust="spacingAndGlyphs"><tspan font-size="29">V</tspan>entricular</text>
<text x="604.7" y="408.3" font-size="24.5" textLength="135.6" lengthAdjust="spacingAndGlyphs">septal defect</text>
<text x="585.3" y="526.7" font-size="24.5" textLength="173.6" lengthAdjust="spacingAndGlyphs">Right ventricular</text>
<text x="609.2" y="555.9" font-size="24.5" textLength="131.1" lengthAdjust="spacingAndGlyphs">hypertrophy</text>
<path d="M781.3 183.3L1051.5 464.8M730 277.8L956.7 431.7M755 383.9L1002.7 537.7M688 584L905.3 741.3" stroke="#000" stroke-width="2" fill="none"/>
</svg>
</body></html>
